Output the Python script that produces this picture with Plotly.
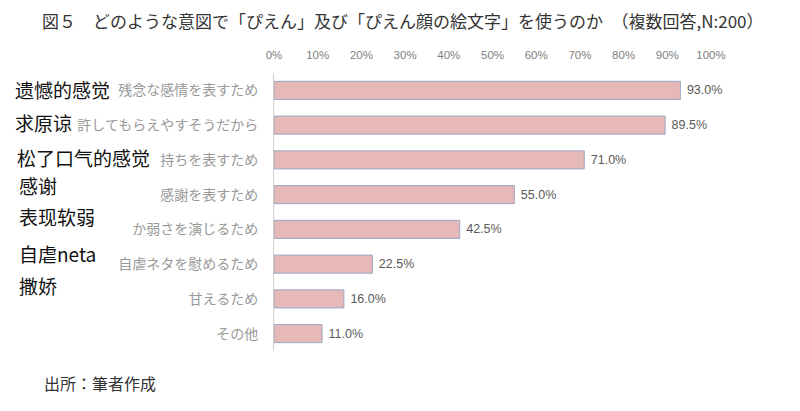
import plotly.graph_objects as go

categories = [
    "残念な感情を表すため",
    "許してもらえやすそうだから",
    "持ちを表すため",
    "感謝を表すため",
    "か弱さを演じるため",
    "自虐ネタを慰めるため",
    "甘えるため",
    "その他",
]
values = [93.0, 89.5, 71.0, 55.0, 42.5, 22.5, 16.0, 11.0]
tick_vals = [0, 10, 20, 30, 40, 50, 60, 70, 80, 90, 100]
tick_text = [f"{v}%" for v in tick_vals]

overlay_labels = ["遗憾的感觉", "求原谅", "松了口气的感觉", "感谢", "表现软弱", "自虐neta", "撒娇"]

title_text = "図５　どのような意図で「ぴえん」及び「ぴえん顔の絵文字」を使うのか　（複数回答,N:200）"
source_text = "出所：筆者作成"

W, H = 800, 411
L, R, T, B = 274, 89, 73, 60

fig = go.Figure(
    go.Bar(
        x=values,
        y=categories,
        orientation="h",
        marker=dict(color="#E6B8B8", line=dict(color="#9DA6C4", width=1)),
        text=values,
        texttemplate=" %{x:.1f}%",
        textposition="outside",
        textfont=dict(family="Liberation Sans", size=12.5, color="#595959"),
        cliponaxis=False,
        hoverinfo="skip",
    )
)

# overlay label pixel positions (left x, center y)
overlay_pos = [(14, 90), (14, 122), (16, 157), (18, 185), (18, 216), (18, 253), (18, 285)]
pw = W - L - R
ph = H - T - B
for lab, (px, py) in zip(overlay_labels, overlay_pos):
    fig.add_annotation(
        text=lab, xref="paper", yref="paper",
        x=(px - L) / pw, y=(H - B - py) / ph,
        xanchor="left", yanchor="middle", showarrow=False,
        font=dict(family="Noto Sans CJK SC", size=19, color="#111111"),
        bgcolor="white", borderpad=0,
    )

fig.add_annotation(
    text=source_text, xref="paper", yref="paper",
    x=(42 - L) / pw, y=(H - B - 383) / ph,
    xanchor="left", yanchor="middle", showarrow=False,
    font=dict(family="Noto Sans CJK JP", size=16, color="#333333"),
)

fig.update_layout(
    width=W, height=H,
    margin=dict(l=L, r=R, t=T, b=B),
    paper_bgcolor="white", plot_bgcolor="white",
    showlegend=False,
    bargap=0.48,
    title=dict(
        text=title_text, x=42 / W, xanchor="left", xref="container",
        y=1 - 22 / H, yanchor="middle", yref="container",
        font=dict(family="Noto Sans CJK JP", size=17, color="#333333"),
    ),
    xaxis=dict(
        range=[0, 100], side="top", tickvals=tick_vals, ticktext=tick_text,
        showgrid=False, zeroline=False, showline=False, ticks="",
        tickfont=dict(family="Liberation Sans", size=11.5, color="#808080"),
        ticklabelstandoff=11, fixedrange=True,
    ),
    yaxis=dict(
        autorange="reversed", showgrid=False, zeroline=False,
        showline=True, linecolor="#D0D0D0", linewidth=1, ticks="",
        tickfont=dict(family="Noto Sans CJK JP", size=14, color="#999999"),
        ticklabelstandoff=12, fixedrange=True,
    ),
)

fig.write_html("out.html")
